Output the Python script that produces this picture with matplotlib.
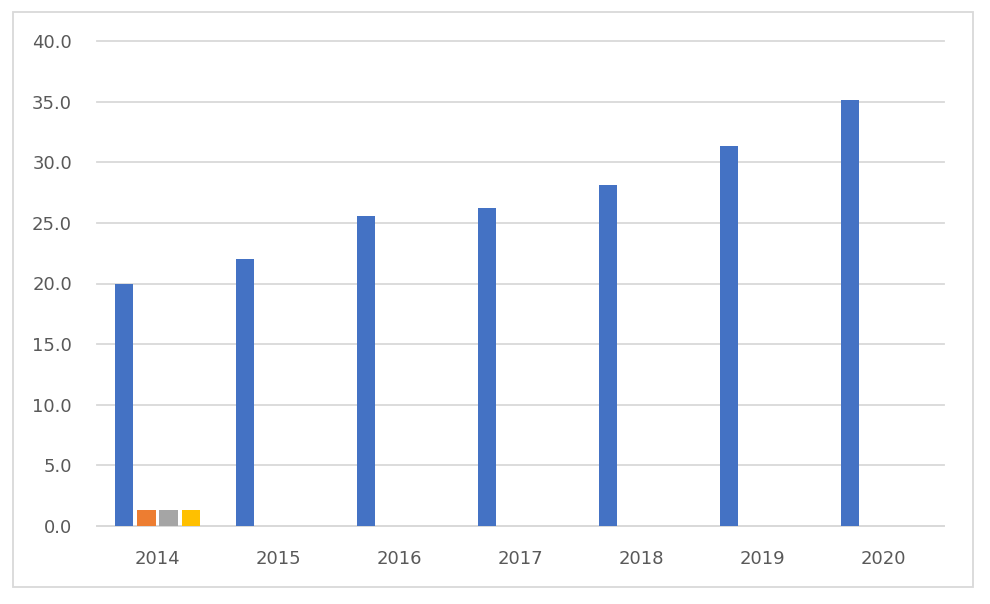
import matplotlib.pyplot as plt
import numpy as np
from matplotlib.patches import Rectangle

# values
years = ['2014', '2015', '2016', '2017', '2018', '2019', '2020']
serie1 = [20.0, 22.0, 25.6, 26.2, 28.1, 31.3, 35.1]
serie2 = [1.35, 0, 0, 0, 0, 0, 0]
serie3 = [1.35, 0, 0, 0, 0, 0, 0]
serie4 = [1.35, 0, 0, 0, 0, 0, 0]
yticks = [0, 5, 10, 15, 20, 25, 30, 35, 40]

colores = ['#4472c4', '#ed7d31', '#a5a5a5', '#ffc000']
grid = '#d9d9d9'
texto = '#595959'

fig = plt.figure(figsize=(9.9, 6.04), dpi=100)
ax = fig.add_axes([97/990, 78/604, 847/990, 485/604])

x = np.arange(len(years))
ancho = 0.149
paso = 0.182
for i, (serie, c) in enumerate(zip([serie1, serie2, serie3, serie4], colores)):
  ax.bar(x + (i - 1.5)*paso, serie, width=ancho, color=c, zorder=3)

ax.set_xlim(-0.5, len(years) - 0.5)
ax.set_ylim(0, 40)
ax.set_yticks(yticks)
ax.set_yticklabels(['{:.1f}'.format(v) for v in yticks])
ax.set_xticks(x)
ax.set_xticklabels(years)
ax.yaxis.grid(True, color=grid, linewidth=1.3, zorder=0)
for l in ax.get_ygridlines():
  l.set_clip_on(False)
for s in ['top', 'right', 'left']:
  ax.spines[s].set_visible(False)
ax.spines['bottom'].set_color(grid)
ax.spines['bottom'].set_linewidth(1.3)
ax.tick_params(axis='both', length=0, labelsize=13, labelcolor=texto)
ax.tick_params(axis='y', pad=18)
ax.tick_params(axis='x', pad=17)

# borde del grafico
fig.patches.append(Rectangle((13/990, 17/604), 960/990, 575/604, transform=fig.transFigure,
                             fill=False, edgecolor=grid, linewidth=1.3))

fig.savefig('out.png', dpi=100)
